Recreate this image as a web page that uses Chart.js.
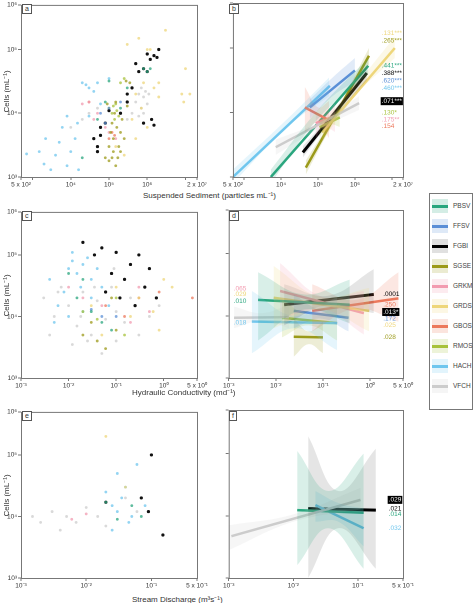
<!DOCTYPE html>
<html><head><meta charset="utf-8">
<script src="https://cdn.jsdelivr.net/npm/chart.js@4.4.1/dist/chart.umd.min.js"></script>
<style>
body{margin:0;width:474px;height:603px;background:#fff;position:relative;overflow:hidden;font-family:"Liberation Sans",Arial,sans-serif;color:#333}
canvas{position:absolute}
.t{position:absolute;font-size:8px;white-space:nowrap;color:#333;z-index:2}
.ylab{transform:rotate(-90deg);transform-origin:center}
.pl{position:absolute;font-size:7px;border:1px solid #555;padding:0 2px;line-height:8px;background:#fff;z-index:2}
#leg{position:absolute;left:429px;top:193px;width:44px;height:217px;border:1px solid #777;box-sizing:border-box}
.li{position:absolute;left:2px;font-size:6.5px;color:#444}
.sw{position:absolute;left:0;width:16px;height:14px}
.sw i{position:absolute;left:0;top:6px;width:16px;height:2.5px}
.li span{position:absolute;left:21px;top:3px}
</style></head><body>
<div id="wrap"></div>
<div id="leg"></div>
<div class="t ylab" style="left:-16px;top:86px">Cells (mL⁻¹)</div>
<div class="t ylab" style="left:-16px;top:290px">Cells (mL⁻¹)</div>
<div class="t ylab" style="left:-16px;top:490px">Cells (mL⁻¹)</div>
<div class="t" style="left:143px;top:189px">Suspended Sediment (particles mL⁻¹)</div>
<div class="t" style="left:132px;top:386px">Hydraulic Conductivity (md⁻¹)</div>
<div class="t" style="left:132px;top:593px">Stream Discharge (m³s⁻¹)</div>
<div class="pl" style="left:22px;top:4px">a</div>
<div class="pl" style="left:229px;top:4px">b</div>
<div class="pl" style="left:22px;top:211px">c</div>
<div class="pl" style="left:229px;top:211px">d</div>
<div class="pl" style="left:22px;top:411px">e</div>
<div class="pl" style="left:229px;top:411px">f</div>
<script>
const sites = ['PBSV','FFSV','FGBI','SGSE','GRKM','GRDS','GBOS','RMOS','HACH','VFCH'];
const siteColors = ['#2aa67e','#5b8fd6','#000000','#9c9a1a','#f29bb0','#eed67a','#ec785c','#a7c23a','#6fc6ee','#cccccc'];

// scatter points: [site, x, cells]
const scatterA = [
 ['HACH',7e2,2.3e3],['HACH',1.5e3,2.5e3],['HACH',2e3,1.6e3],['HACH',3e3,1.3e3],['HACH',4e3,2.2e3],['HACH',5e3,3.5e3],['HACH',6e3,6e3],['HACH',8e3,1.5e3],['HACH',1e4,2.5e3],['HACH',1.3e4,4e3],['HACH',1.6e4,1.3e3],['HACH',2e4,3e4],['HACH',2.5e4,2.8e4],['HACH',3e4,2.5e4],['HACH',4e4,2.2e4],['HACH',5e4,3e4],['HACH',3e4,9e3],['HACH',1.5e4,7e3],['HACH',6e4,1.4e4],['HACH',1e5,3.5e4],['HACH',8e3,9e3],['HACH',2.2e3,4e3],
 ['PBSV',2e4,2e3],['PBSV',8e4,1.5e4],['PBSV',1e5,3.2e4],['PBSV',2e5,1.2e4],['PBSV',3e5,2.5e4],['PBSV',1e6,4.5e4],['PBSV',8e5,5e4],['PBSV',1.2e6,5e4],['PBSV',5e4,8e3],
 ['GRDS',5e5,2e4],['GRDS',8e5,3e4],['GRDS',1e6,1e5],['GRDS',1.5e6,2.5e4],['GRDS',2e6,1.8e4],['GRDS',3e6,2e5],['GRDS',1e7,5e4],['GRDS',1.3e7,2e4],['GRDS',8e6,2e4],['GRDS',9e6,1.5e4],['GRDS',6e5,1.5e5],['GRDS',4e5,8e3],['GRDS',1e6,6e3],['GRDS',5e5,4e3],['GRDS',7e5,1.2e4],['GRDS',2e6,3e4],['GRDS',1.2e6,1e5],['GRDS',3e5,1.2e5],['GRDS',1.5e5,3e3],['GRDS',2.5e5,2.2e3],
 ['VFCH',5e5,1.5e4],['VFCH',6e5,2e4],['VFCH',7e5,1.2e4],['VFCH',8e5,1.8e4],['VFCH',9e5,2.2e4],['VFCH',1e6,1.4e4],['VFCH',4e5,1e4],['VFCH',3e5,8e3],['VFCH',6e5,9e3],['VFCH',7e5,2.5e4],['VFCH',5e4,1.2e4],['VFCH',3e4,1e4],['VFCH',2e4,8e3],['VFCH',1e4,6e3],['VFCH',8e5,1e4],['VFCH',1.1e6,2e4],
 ['GRKM',2e4,1.4e4],['GRKM',3e4,1.5e4],['GRKM',5e4,1e4],['GRKM',8e4,6e3],['GRKM',1e5,5e3],['GRKM',1.5e5,4e3],['GRKM',4e4,8e3],
 ['GBOS',3e4,1.5e4],['GBOS',1.2e5,5e3],['GBOS',1.4e5,4.5e3],['GBOS',1e5,4e3],
 ['FFSV',6e4,1e4],['FFSV',1e5,1.2e4],['FFSV',2e5,1.5e4],['FFSV',8e4,7e3],
 ['SGSE',8e4,2e3],['SGSE',1e5,3e3],['SGSE',1.2e5,2e3],['SGSE',1.3e5,4e3],['SGSE',1.5e5,1.5e3],['SGSE',1.6e5,6e3],['SGSE',1.8e5,3e3],['SGSE',2e5,2.5e3],['SGSE',2.2e5,8e3],['SGSE',1.1e5,5e3],['SGSE',1.4e5,1e4],['SGSE',2.5e5,4e3],['SGSE',3e5,1.3e4],['SGSE',1e5,1.8e3],['SGSE',1.7e5,2e3],['SGSE',2e5,5e3],['SGSE',1.2e5,7e3],['SGSE',1.5e5,1.5e4],['SGSE',3.5e5,3e4],['SGSE',2.8e5,3.2e4],['SGSE',9e4,1.4e4],['SGSE',1.3e5,2.5e3],
 ['RMOS',1e5,1.2e4],['RMOS',1.2e5,1e4],['RMOS',1.5e5,1.4e4],['RMOS',1.8e5,9e3],['RMOS',1.6e5,1.1e4],['RMOS',2e5,3e4],['RMOS',2.5e5,3.5e4],['RMOS',1.4e5,8e3],['RMOS',1.3e5,1.3e4],
 ['FGBI',4e4,4e3],['FGBI',5e4,3e3],['FGBI',6e4,6e3],['FGBI',5e4,2.5e3],['FGBI',6e4,4.5e3],['FGBI',8e4,7e3],['FGBI',1e5,1.1e4],['FGBI',2e5,1e4],['FGBI',3e5,1.5e4],['FGBI',4e5,2.5e4],['FGBI',5e5,6e4],['FGBI',6e5,4.5e4],['FGBI',8e5,5e4],['FGBI',1e6,4.5e4],['FGBI',1.2e6,7e4],['FGBI',1.5e6,8e4],['FGBI',2e6,1e5],['FGBI',1e6,8.5e4],['FGBI',1.3e6,8e3],['FGBI',1.5e6,6.5e3],['FGBI',8e5,7e3],['FGBI',3e5,2e4],['FGBI',1.8e6,7.5e4]
];
const scatterC = [
 ['VFCH',3e-3,2e4],['VFCH',5e-3,1e4],['VFCH',7e-3,3e4],['VFCH',0.01,1.5e4],['VFCH',0.015,7e3],['VFCH',0.02,2.5e4],['VFCH',0.03,5e3],['VFCH',0.04,1.8e4],['VFCH',0.06,9e3],['VFCH',0.08,3e4],['VFCH',0.1,1.2e4],['VFCH',0.15,8e3],['VFCH',0.2,2e4],['VFCH',0.3,5e3],['VFCH',0.5,1e4],['VFCH',0.8,1.5e4],['VFCH',4e-3,5e3],['VFCH',0.012,3.5e3],['VFCH',0.025,4e3],['VFCH',0.05,2.5e3],['VFCH',0.1,4e3],['VFCH',6e-3,2.5e4],['VFCH',0.018,1e4],['VFCH',0.035,3e4],['VFCH',0.09,6e4],
 ['HACH',0.01,6e4],['HACH',0.012,8e4],['HACH',0.015,5e4],['HACH',0.02,7e4],['HACH',0.025,9e4],['HACH',0.03,4e4],['HACH',0.018,3e4],['HACH',8e-3,2.5e4],['HACH',6e-3,1.5e4],['HACH',5e-3,8e3],['HACH',0.04,6e4],['HACH',0.05,3e4],['HACH',0.02,1.2e4],['HACH',0.01,1e4],['HACH',0.03,2e4],['HACH',0.07,1.5e4],['HACH',4e-3,4e4],['HACH',0.012,1.1e5],
 ['GRDS',0.03,1.5e4],['GRDS',0.1,3e4],['GRDS',0.3,2e4],['GRDS',0.6,1.2e4],['GRDS',1,4e4],['GRDS',0.8,6e3],['GRDS',0.05,5e3],['GRDS',0.2,1e4],['GRDS',1.5,3e4],
 ['GRKM',0.01,3e4],['GRKM',0.02,2e4],['GRKM',0.05,1.5e4],['GRKM',0.2,8e3],['GRKM',0.3,3e4],['GRKM',0.5,1.2e4],
 ['GBOS',0.06,1.5e4],['GBOS',0.3,2e4],['GBOS',0.8,2.5e4],['GBOS',4,2e4],['GBOS',0.15,1e4],
 ['SGSE',0.02,5e3],['SGSE',0.04,4e3],['SGSE',0.06,3e3],['SGSE',0.1,6e3],['SGSE',0.03,8e3],['SGSE',0.08,2e4],
 ['RMOS',0.02,1.2e4],['RMOS',0.04,9e3],['RMOS',0.1,2e4],['RMOS',0.15,5e3],
 ['FFSV',0.03,1.3e4],['FFSV',0.05,1e4],['FFSV',0.1,1e4],
 ['PBSV',0.01,5e4],['PBSV',0.02,4e4],['PBSV',0.03,1.2e4],['PBSV',0.05,8e3],['PBSV',0.015,2e4],['PBSV',0.08,6e3],
 ['FGBI',0.05,1.3e5],['FGBI',0.08,5e4],['FGBI',0.1,1.1e5],['FGBI',0.15,4e4],['FGBI',0.2,7e4],['FGBI',0.3,1e5],['FGBI',0.4,3e4],['FGBI',0.12,2e4],['FGBI',0.06,2.5e4],['FGBI',0.5,6e4],['FGBI',0.25,1.5e4],['FGBI',0.02,1.6e5],['FGBI',0.035,1e5],['FGBI',0.7,2e4]
];
const scatterE = [
 ['VFCH',1.5e-3,1e4],['VFCH',2e-3,8e3],['VFCH',3e-3,1.2e4],['VFCH',4e-3,6e3],['VFCH',5e-3,1e4],['VFCH',7e-3,8e3],['VFCH',0.01,1.4e4],['VFCH',0.015,1e4],['VFCH',0.02,7e3],['VFCH',0.04,2e4],['VFCH',0.06,1.2e4],
 ['GRKM',6e-3,9e3],['GRKM',0.01,1.1e4],
 ['HACH',0.02,2.5e4],['HACH',0.025,1.5e4],['HACH',0.03,5e4],['HACH',0.04,3e4],['HACH',0.05,1e4],['HACH',0.06,7e4],['HACH',0.035,2e4],['HACH',0.045,8e3],['HACH',0.08,1.5e4],['HACH',0.03,1.2e4],['HACH',0.025,6e3],
 ['PBSV',0.02,1.7e4],['PBSV',0.03,9e3],['PBSV',0.05,1.5e4],['PBSV',0.07,1e4],
 ['GRDS',0.02,2e5],['GRDS',0.04,3e4],
 ['FGBI',0.1,1e5],['FGBI',0.07,2e4],['FGBI',0.15,5e3],['FGBI',0.02,1.7e4],['FGBI',0.09,1.2e4]
];

// fitted lines: [site, x0, y0, x1, y1]
const linesB = [
 ['VFCH',7.2e3,2.9e3,1.3e6,1.4e4],['GRDS',1.3e5,4.9e3,1.2e7,1e5],['FFSV',6e4,1.2e4,1e6,4.5e4],['GBOS',4.4e4,1.2e4,2e5,7.6e3],
 ['GRKM',8.7e4,6.8e3,2.9e5,8.9e3],['RMOS',1.1e5,5.9e3,3.9e5,8.4e3],['HACH',5e2,1e3,2.1e5,2.6e4],['PBSV',5.3e3,1e3,2.3e6,5.3e4],
 ['FGBI',3.9e4,2.4e3,2.1e6,4.1e4],['SGSE',4.7e4,1.4e3,2.4e6,7.6e4]
];
const linesD = [
 ['VFCH',1.3e-3,9.3e3,0.019,9.5e3],['HACH',3.1e-3,8.1e3,0.2,7.6e3],['RMOS',0.0135,9.3e3,0.2,7.6e3],['PBSV',4.2e-3,1.8e4,0.37,1.5e4],
 ['GRDS',9e-3,1.95e4,0.96,1.2e4],['GRKM',0.0123,2.5e4,0.74,1.1e4],['FFSV',0.024,1.2e4,0.35,9.3e3],['GBOS',0.059,1.2e4,4,1.9e4],
 ['FGBI',0.015,1.5e4,1.2,2.2e4],['SGSE',0.024,4.6e3,0.1,4.5e3]
];
const linesF = [
 ['VFCH',1.1e-3,4.7e3,0.11,1.8e4],['PBSV',0.0115,1.23e4,0.123,1.12e4],['HACH',0.022,1.48e4,0.123,6.3e3],['FGBI',0.017,1.3e4,0.19,1.23e4]
];

// confidence bands: [site, [x], [lower], [upper]]
const bandsB = [
 ['HACH',[5e2,1.5e4,2e5],[8e2,6e3,1.8e4],[1.3e3,8e3,3.5e4]],
 ['PBSV',[5.3e3,1e5,2.3e6],[8e2,8e3,4e4],[1.3e3,1.1e4,7e4]],
 ['FGBI',[3.9e4,2.5e5,2.1e6],[2e3,8e3,3.2e4],[3e3,1e4,5.5e4]],
 ['SGSE',[4.7e4,3e5,2.4e6],[1.1e3,8e3,5.5e4],[1.8e3,1e4,1e5]],
 ['GRDS',[1.3e5,1e6,1.2e7],[3.5e3,1.8e4,7e4],[7e3,2.6e4,1.5e5]],
 ['FFSV',[6e4,2.5e5,1e6],[8e3,1.8e4,3e4],[1.6e4,3.5e4,7e4]],
 ['GBOS',[4.4e4,1e5,2e5],[5e3,7e3,4e3],[2.5e4,1.2e4,1.5e4]],
 ['RMOS',[1.1e5,2e5,3.9e5],[4e3,6.5e3,6e3],[8e3,8.5e3,1.2e4]],
 ['VFCH',[7.2e3,1e5,1.3e6],[2.2e3,5.5e3,1.1e4],[3.8e3,7e3,1.8e4]],
 ['GRKM',[8.7e4,1.5e5,2.9e5],[4e3,6e3,5e3],[1e4,9e3,1.4e4]]
];
const bandsD = [
 ['PBSV',[4.2e-3,0.04,0.37],[4e3,1.26e4,7.6e3],[5e4,2.2e4,3.8e4]],
 ['GRKM',[0.0123,0.1,0.74],[9e3,1.26e4,5e3],[7e4,2e4,2.5e4]],
 ['GRDS',[9e-3,0.09,0.96],[6.3e3,1.26e4,5.6e3],[6.3e4,2e4,2.8e4]],
 ['FGBI',[0.015,0.13,1.2],[7e3,1.5e4,1.1e4],[3.2e4,2.1e4,5.6e4]],
 ['GBOS',[0.059,0.5,4],[5.6e3,1.3e4,8e3],[3.2e4,1.8e4,5e4]],
 ['FFSV',[0.024,0.09,0.35],[6.3e3,9e3,5.6e3],[2.2e4,1.26e4,1.6e4]],
 ['VFCH',[1.3e-3,5e-3,0.019],[6.3e3,8.3e3,6.3e3],[1.4e4,1.1e4,1.5e4]],
 ['HACH',[3.1e-3,0.025,0.2],[2.5e3,6.3e3,2.8e3],[2.5e4,1e4,2e4]],
 ['RMOS',[0.0135,0.05,0.2],[4.5e3,7e3,4e3],[1.8e4,1.05e4,1.4e4]],
 ['SGSE',[0.024,0.05,0.1],[2.2e3,3.5e3,2.5e3],[9e3,5.6e3,8e3]]
];
const bandsF = [
 ['PBSV',[0.0115,0.035,0.123],[1.6e3,6.3e3,1.4e3],[1.1e5,2.5e4,1e5]],
 ['FGBI',[0.017,0.05,0.19],[1e3,6.3e3,1.4e3],[1.9e5,2.5e4,1.2e5]],
 ['VFCH',[1e-3,0.01,0.11],[2.8e3,8e3,1.26e4],[7e3,1.05e4,2.8e4]],
 ['HACH',[0.022,0.05,0.123],[8e3,8e3,3.2e3],[2.5e4,1.6e4,1.3e4]]
];

// r² labels: [text, site, x, y, boxed]
const labelsB = [
 ['.131***','GRDS',5.3e6,1.7e5,0],['.265***','SGSE',5.3e6,1.3e5,0],['.441***','PBSV',5.3e6,5.3e4,0],['.388***','FGBI',5.3e6,4.1e4,0],
 ['.620***','FFSV',5.3e6,3.1e4,0],['.460***','HACH',5.3e6,2.4e4,0],['.071***','FGBI',5.3e6,1.5e4,1],['.130*','RMOS',5.3e6,1e4,0],
 ['.175**','GRKM',5.3e6,7.8e3,0],['.154','GBOS',5.3e6,6.1e3,0]
];
const labelsD = [
 ['.065','GRKM',1.28e-3,2.7e4,0],['.029','GRDS',1.28e-3,2.2e4,0],['.010','PBSV',1.28e-3,1.7e4,0],['.018','HACH',1.28e-3,7.8e3,0],
 ['.0001','FGBI',1.9,2.2e4,0],['.250','GBOS',1.9,1.5e4,0],['.013*','FGBI',1.9,1.15e4,1],['.172','FFSV',1.9,9e3,0],
 ['.025','GRDS',1.9,7e3,0],['.028','SGSE',1.9,4.5e3,0]
];
const labelsF = [
 ['.029','FGBI',0.3,1.8e4,1],['.021','FGBI',0.3,1.3e4,0],['.014','PBSV',0.3,1.05e4,0],['.032','HACH',0.3,6.3e3,0]
];

const yTicks = [1e3,1e4,1e5,5e5];
const yTickLabels = ['10³','10⁴','10⁵','10⁶'];
const xTicksSed = [5e2,1e3,1e4,1e5,1e6,1e7,2e7];
const xLabelsSed = ['5 x 10²','','10⁴','10⁵','10⁶','','2 x 10⁷'];
const xTicksK = [1e-3,1e-2,1e-1,1,5];
const xLabelsK = ['10⁻³','10⁻²','10⁻¹','10⁰','5 x 10⁰'];
const xTicksQ = [1e-3,1e-2,1e-1,5e-1];
const xLabelsQ = ['10⁻³','10⁻²','10⁻¹','5 x 10⁻¹'];

function col(site){ return siteColors[sites.indexOf(site)]; }
function rgba(hex,a){
  const n = parseInt(hex.slice(1),16);
  return `rgba(${n>>16},${(n>>8)&255},${n&255},${a})`;
}

const frame = {
  id:'frame',
  afterDraw(c){
    const a = c.chartArea, ctx = c.ctx;
    ctx.save(); ctx.strokeStyle='#777'; ctx.lineWidth=1;
    ctx.strokeRect(a.left+0.5,a.top+0.5,a.right-a.left,a.bottom-a.top);
    const labs = c.options.plugins.r2 || [];
    ctx.font='6.5px "Liberation Sans", Arial'; ctx.textBaseline='middle';
    labs.forEach(l=>{
      const x = c.scales.x.getPixelForValue(l[2]), y = c.scales.y.getPixelForValue(l[3]);
      const w = ctx.measureText(l[0]).width;
      if (l[4]) { ctx.fillStyle='#000'; ctx.fillRect(x-1,y-4,w+2,8); ctx.fillStyle='#fff'; }
      else ctx.fillStyle = col(l[1]);
      ctx.fillText(l[0],x,y);
    });
    ctx.restore();
  }
};

function scatterSets(pts){
  return sites.map(s=>({
    type:'scatter',
    data: pts.filter(p=>p[0]===s).map(p=>({x:p[1],y:p[2]})),
    backgroundColor: s==='FGBI' ? '#111' : rgba(col(s),0.75),
    borderWidth:0, pointRadius: s==='FGBI'?1.6:1.4
  }));
}
function fitSets(lines,bands){
  const ds = [];
  bands.forEach(b=>{
    const c = b[0]==='FGBI' ? 'rgba(0,0,0,0.1)' : rgba(col(b[0]),0.18);
    ds.push({type:'line',data:b[1].map((x,i)=>({x,y:b[2][i]})),borderWidth:0,pointRadius:0,fill:false,tension:0.4});
    ds.push({type:'line',data:b[1].map((x,i)=>({x,y:b[3][i]})),borderWidth:0,pointRadius:0,fill:'-1',backgroundColor:c,tension:0.4});
  });
  lines.forEach(l=>{
    ds.push({type:'line',data:[{x:l[1],y:l[2]},{x:l[3],y:l[4]}],borderColor:col(l[0]),
      borderWidth: l[0]==='FGBI'?3:2.5,pointRadius:0,fill:false});
  });
  return ds;
}

Chart.defaults.font.family='"Liberation Sans", Arial';

function build(left,top,w,h,ds,xmin,xmax,xt,xl,showY,labels){
  const cv = document.createElement('canvas');
  cv.width=w; cv.height=h;
  cv.style.left=left+'px'; cv.style.top=top+'px';
  document.getElementById('wrap').appendChild(cv);
  const tickFont = {size:6.5};
  new Chart(cv,{
    data:{datasets:ds},
    options:{
      responsive:false, animation:false, devicePixelRatio:2,
      layout:{padding:{top:3,right:18,left:0,bottom:0}},
      plugins:{legend:{display:false},tooltip:{enabled:false},r2:labels},
      scales:{
        x:{type:'logarithmic',min:xmin,max:xmax,border:{display:false},
          grid:{drawOnChartArea:false,tickLength:3,color:'#777'},
          afterBuildTicks:ax=>{ax.ticks=xt.map(v=>({value:v}));},
          afterFit:ax=>{ax.height=12;},
          ticks:{autoSkip:false,maxRotation:0,padding:1,color:'#333',font:tickFont,callback:(v,i)=>xl[i]}},
        y:{type:'logarithmic',min:1e3,max:5e5,border:{display:false},
          grid:{drawOnChartArea:false,tickLength:3,color:'#777'},
          afterBuildTicks:ax=>{ax.ticks=yTicks.map(v=>({value:v}));},
          afterFit:ax=>{ax.width=showY?21:6;},
          ticks:{display:showY,padding:1,color:'#333',font:tickFont,callback:(v,i)=>yTickLabels[i]}}
      }
    },
    plugins:[frame]
  });
}

build(0,0,215,189,scatterSets(scatterA),5e2,2e7,xTicksSed,xLabelsSed,true,[]);
build(222,0,199,189,fitSets(linesB,bandsB),5e2,2e7,xTicksSed,xLabelsSed,false,labelsB);
build(0,207,215,183,scatterSets(scatterC),1e-3,5,xTicksK,xLabelsK,true,[]);
build(222,207,199,183,fitSets(linesD,bandsD),1e-3,5,xTicksK,xLabelsK,false,labelsD);
build(0,407,215,183,scatterSets(scatterE),1e-3,0.5,xTicksQ,xLabelsQ,true,[]);
build(222,407,199,183,fitSets(linesF,bandsF),1e-3,0.5,xTicksQ,xLabelsQ,false,labelsF);

const leg = document.getElementById('leg');
sites.forEach((s,i)=>{
  const d = document.createElement('div');
  d.className='li'; d.style.top=(5+i*20)+'px';
  const band = s==='FGBI' ? 'rgba(0,0,0,0.12)' : rgba(col(s),0.2);
  d.innerHTML = `<div class="sw" style="background:${band}"><i style="background:${col(s)}"></i></div><span>${s}</span>`;
  leg.appendChild(d);
});
</script>
</body></html>
